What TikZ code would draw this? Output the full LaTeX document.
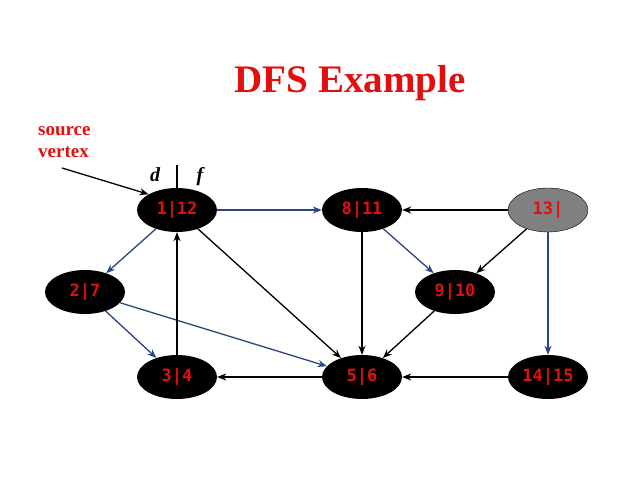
\documentclass[tikz,border=0pt]{standalone}
\usepackage{fontspec}
\setmainfont{Liberation Serif}
\newfontfamily\mono{DejaVu Sans Mono}
\usetikzlibrary{arrows.meta,shapes.geometric}
\definecolor{tree}{RGB}{40,70,130}
\definecolor{lbl}{RGB}{225,15,15}
\begin{document}
\begin{tikzpicture}[x=1pt,y=-1pt,
  vtx/.style={ellipse,fill=black,minimum width=80pt,minimum height=44pt,inner sep=0pt,text=lbl,font=\mono\bfseries\fontsize{17}{17}\selectfont},
  te/.style={-{Stealth[length=9pt,width=7pt]},draw=tree,line width=1.3pt},
  oe/.style={-{Stealth[length=9pt,width=7pt]},draw=black,line width=1.3pt}]
\useasboundingbox (0,0) rectangle (638,478);
\node[text=lbl,font=\bfseries\fontsize{39}{39}\selectfont] (title) at (350,83) {DFS Example};
\node[text=lbl,font=\bfseries\fontsize{19}{22}\selectfont,align=left,anchor=north west,inner sep=0pt] (src) at (38,126) {source\\vertex};
\coordinate (srcend) at (62,168);
\node[vtx] (n1) at (177,210) {1|12};
\node[vtx] (n8) at (362,210) {8|11};
\node[vtx,fill=gray,draw=black] (n13) at (548,210) {13|};
\node[vtx] (n2) at (85,292) {2|7};
\node[vtx] (n9) at (455,292) {9|10};
\node[vtx] (n3) at (177,377) {3|4};
\node[vtx] (n5) at (362,377) {5|6};
\node[vtx] (n14) at (548,377) {14|15};
\node[font=\bfseries\itshape\fontsize{20}{20}\selectfont] (d) at (155,175) {d};
\node[font=\bfseries\itshape\fontsize{20}{20}\selectfont] (f) at (200,177) {f};
\coordinate (ta) at (177,165); \coordinate (tb) at (177,188);
\draw[line width=1.2pt] (ta) -- (tb);
\draw[oe] (srcend) -- (n1.north west);
\draw[te] (n1) -- (n8);
\draw[te] (n1) -- (n2);
\draw[te] (n2) -- (n3);
\draw[te] (n2) -- (n5);
\draw[te] (n8) -- (n9);
\draw[te] (n13) -- (n14);
\draw[oe] (n3) -- (n1);
\draw[oe] (n1) -- (n5);
\draw[oe] (n8) -- (n5);
\draw[oe] (n13) -- (n8);
\draw[oe] (n13) -- (n9);
\draw[oe] (n9) -- (n5);
\draw[oe] (n5) -- (n3);
\draw[oe] (n14) -- (n5);
\end{tikzpicture}
\end{document}
